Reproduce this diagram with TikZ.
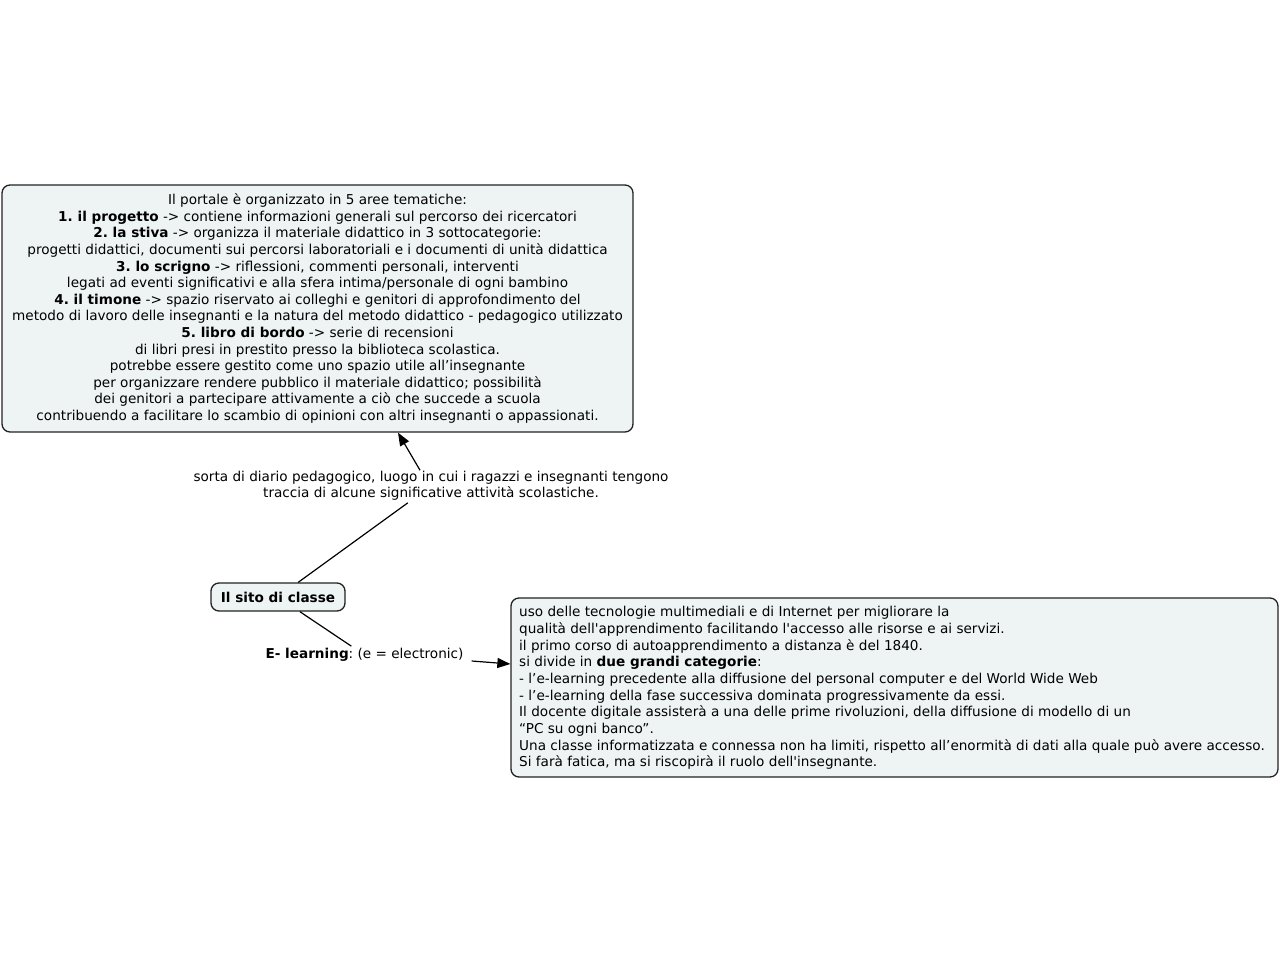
\documentclass[tikz,border=0pt]{standalone}
\usepackage{fontspec}
\setmainfont{DejaVu Sans}
\usetikzlibrary{arrows.meta}
\definecolor{boxfill}{HTML}{EEF4F4}
\definecolor{boxline}{HTML}{222222}
\newcommand{\apos}{\textquotesingle}
\tikzset{
  concept/.style={draw=boxline, fill=boxfill, line width=1.3pt, rounded corners=8pt, inner sep=0pt},
  linklabel/.style={inner sep=2pt, align=center, font=\fontsize{13.6}{16}\selectfont},
  conn/.style={line width=1.2pt, draw=black},
  arr/.style={conn, -{Triangle[length=13pt,width=10pt]}}
}
\frenchspacing
\begin{document}
\begin{tikzpicture}[x=1pt,y=-1pt]
\useasboundingbox (0,0) rectangle (1280,963);
\node[concept, minimum width=631pt, minimum height=247pt, align=center,
  font=\fontsize{13.6}{16.6}\selectfont] (top) at (317.5,308.5) {%
Il portale è organizzato in 5 aree tematiche:\\
\textbf{1. il progetto} -> contiene informazioni generali sul percorso dei ricercatori\\
\textbf{2. la stiva} -> organizza il materiale didattico in 3 sottocategorie:\\
progetti didattici, documenti sui percorsi laboratoriali e i documenti di unità didattica\\
\textbf{3. lo scrigno} -> riflessioni, commenti personali, interventi\\
legati ad eventi significativi e alla sfera intima/personale di ogni bambino\\
\textbf{4. il timone} -> spazio riservato ai colleghi e genitori di approfondimento del\\
metodo di lavoro delle insegnanti e la natura del metodo didattico - pedagogico utilizzato\\
\textbf{5. libro di bordo} -> serie di recensioni\\
di libri presi in prestito presso la biblioteca scolastica.\\
potrebbe essere gestito come uno spazio utile all’insegnante\\
per organizzare rendere pubblico il materiale didattico; possibilità\\
dei genitori a partecipare attivamente a ciò che succede a scuola\\
contribuendo a facilitare lo scambio di opinioni con altri insegnanti o appassionati.};

\node[concept, minimum width=134pt, minimum height=28pt,
  font=\fontsize{13.6}{16}\selectfont\bfseries] (sito) at (278,597) {Il sito di classe};

\node[concept, minimum width=767pt, minimum height=179pt] (right) at (894.5,687.5) {};
\node[anchor=west, inner sep=0pt, align=left,
  font=\fontsize{13.6}{16.67}\selectfont] (righttext) at (519,688) {%
uso delle tecnologie multimediali e di Internet per migliorare la\\
qualità dell\apos apprendimento facilitando l\apos accesso alle risorse e ai servizi.\\
il primo corso di autoapprendimento a distanza è del 1840.\\
si divide in \textbf{due grandi categorie}:\\
- l’e-learning precedente alla diffusione del personal computer e del World Wide Web\\
- l’e-learning della fase successiva dominata progressivamente da essi.\\
Il docente digitale assisterà a una delle prime rivoluzioni, della diffusione di modello di un\\
“PC su ogni banco”.\\
Una classe informatizzata e connessa non ha limiti, rispetto all’enormità di dati alla quale può avere accesso.\\
Si farà fatica, ma si riscopirà il ruolo dell\apos insegnante.};

\node[linklabel] (lab1) at (431,486) {sorta di diario pedagogico, luogo in cui i ragazzi e insegnanti tengono\\traccia di alcune significative attività scolastiche.};
\node[linklabel] (lab2) at (364.5,655) {\textbf{E- learning}: (e = electronic)};

\draw[conn] (sito) -- (lab1);
\draw[arr] ([xshift=-11pt,yshift=-1pt]lab1.north) -- ([xshift=80.5pt]top.south);
\draw[conn] (sito) -- (lab2);
\draw[arr] ([xshift=6pt,yshift=-6pt]lab2.east) -- ([yshift=23.5pt]right.west);
\end{tikzpicture}
\end{document}
